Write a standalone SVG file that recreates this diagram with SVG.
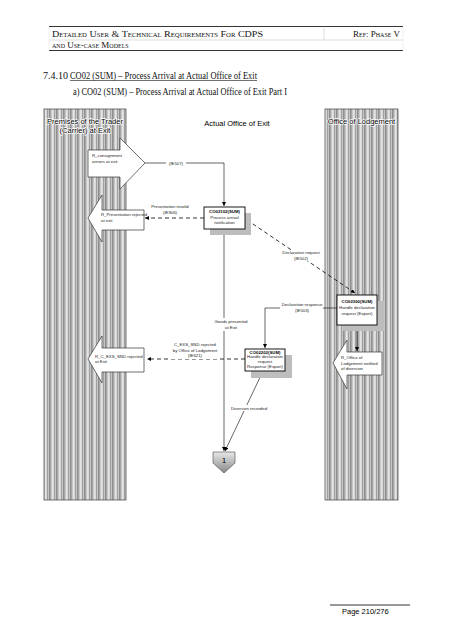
<svg xmlns="http://www.w3.org/2000/svg" width="452" height="640" viewBox="0 0 452 640">
<defs>
<pattern id="stripes" patternUnits="userSpaceOnUse" width="7" height="4">
<rect width="7" height="4" fill="#c6c6c6"/>
<rect x="0" width="1" height="4" fill="#8e8e8e"/>
<rect x="1" width="1" height="4" fill="#a6a6a6"/>
<rect x="3" width="1" height="4" fill="#e4e4e4"/>
<rect x="4" width="1" height="4" fill="#d8d8d8"/>
<rect x="5" width="1" height="4" fill="#a0a0a0"/>
</pattern>
<linearGradient id="pent" x1="0" y1="0" x2="0" y2="1">
<stop offset="0" stop-color="#e8e8e8"/>
<stop offset="1" stop-color="#888"/>
</linearGradient>
<marker id="ah" viewBox="0 0 10 10" refX="10" refY="5" markerWidth="4" markerHeight="4" orient="auto" markerUnits="userSpaceOnUse">
<path d="M0,0 L10,5 L0,10 z" fill="#000"/>
</marker>
</defs>
<style>
.hdr{font-family:"Liberation Serif",serif;font-size:9px;font-variant:small-caps;fill:#111}
.ttl{font-family:"Liberation Serif",serif;font-size:10px;fill:#111}
.lane{fill:url(#stripes);stroke:#555;stroke-width:0.8}
.lt{font-family:"Liberation Sans",sans-serif;font-size:7.5px;fill:#000;stroke:#fff;stroke-width:1.4px;paint-order:stroke;stroke-linejoin:round}
.ht{font-family:"Liberation Sans",sans-serif;font-size:7.5px;fill:#000}
.s{font-family:"Liberation Sans",sans-serif;font-size:4.3px;fill:#222}
.sb{font-family:"Liberation Sans",sans-serif;font-size:4.3px;font-weight:bold;fill:#000}
.box{fill:#fff;stroke:#000;stroke-width:0.9}
.shadow{fill:#bdbdbd}
.arrow{fill:#fff;stroke:#333;stroke-width:0.7}
.c{fill:none;stroke:#000;stroke-width:0.6}
.d{fill:none;stroke:#000;stroke-width:0.8;stroke-dasharray:4,3}
.lbl{fill:#fff}
</style>
<rect width="452" height="640" fill="#fff"/>
<!-- page header -->
<g id="header">
<line x1="49" y1="26.5" x2="403" y2="26.5" stroke="#000" stroke-width="0.8"/>
<line x1="49" y1="40" x2="403" y2="40" stroke="#bbb" stroke-width="0.5"/>
<line x1="49" y1="50.5" x2="403" y2="50.5" stroke="#000" stroke-width="0.8"/>
<line x1="324" y1="26.5" x2="324" y2="40" stroke="#bbb" stroke-width="0.5"/>
<line x1="49" y1="26.5" x2="49" y2="50.5" stroke="#ddd" stroke-width="0.5"/>
<line x1="403" y1="26.5" x2="403" y2="50.5" stroke="#ddd" stroke-width="0.5"/>
<text class="hdr" x="52" y="37" textLength="211" lengthAdjust="spacingAndGlyphs">Detailed User &amp; Technical Requirements For CDPS</text>
<text class="hdr" x="400" y="37" text-anchor="end">Ref: Phase V</text>
<text class="hdr" x="52" y="48">and Use-case Models</text>
</g>
<g id="title">
<text class="ttl" x="43" y="79">7.4.10</text>
<text class="ttl" x="70" y="79" textLength="187" lengthAdjust="spacingAndGlyphs">CO02 (SUM) – Process Arrival at Actual Office of Exit</text>
<line x1="70" y1="80.5" x2="257" y2="80.5" stroke="#111" stroke-width="0.6"/>
<text class="ttl" x="73" y="95" textLength="214" lengthAdjust="spacingAndGlyphs">a) CO02 (SUM) – Process Arrival at Actual Office of Exit Part I</text>
</g>
<!-- lanes -->
<g id="lane-trader">
<rect class="lane" x="44" y="109" width="82" height="391"/>
<text class="lt" x="85" y="124" text-anchor="middle">Premises of the Trader</text>
<text class="lt" x="85" y="133" text-anchor="middle">(Carrier) at Exit</text>
</g>
<g id="lane-exit">
<text class="ht" x="237" y="126" text-anchor="middle">Actual Office of Exit</text>
</g>
<g id="lane-lodgement">
<rect class="lane" x="325" y="109" width="73" height="391"/>
<text class="lt" x="361.5" y="124" text-anchor="middle">Office of Lodgement</text>
</g>
<!-- connectors -->
<g id="connectors">
<path class="c" d="M145,163 H224 V206" marker-end="url(#ah)"/>
<rect class="lbl" x="166" y="160" width="20" height="6"/>
<text class="s" x="176" y="164.5" text-anchor="middle">(IE507)</text>
<path class="d" d="M204,218 H145" marker-end="url(#ah)"/>
<text class="s" x="170" y="208" text-anchor="middle">Presentation invalid</text>
<text class="s" x="170" y="214" text-anchor="middle">(IE906)</text>
<path class="d" d="M247,220 L355,293" marker-end="url(#ah)"/>
<rect class="lbl" x="280" y="250" width="42" height="11"/>
<text class="s" x="301" y="254" text-anchor="middle">Declaration request</text>
<text class="s" x="301" y="260" text-anchor="middle">(IE502)</text>
<path class="c" d="M337,308 H265 V348" marker-end="url(#ah)"/>
<rect class="lbl" x="280" y="302" width="43" height="11"/>
<text class="s" x="302" y="306" text-anchor="middle">Declaration response</text>
<text class="s" x="302" y="312" text-anchor="middle">(IE503)</text>
<path class="c" d="M224,229 V451" marker-end="url(#ah)"/>
<rect class="lbl" x="212" y="318" width="38" height="13"/>
<text class="s" x="231" y="323" text-anchor="middle">Goods presented</text>
<text class="s" x="231" y="329" text-anchor="middle">at Exit</text>
<path class="d" d="M245,359 H147" marker-end="url(#ah)"/>
<rect class="lbl" x="170" y="342" width="50" height="17"/>
<text class="s" x="195" y="346" text-anchor="middle">C_EXS_SND rejected</text>
<text class="s" x="195" y="351.5" text-anchor="middle">by Office of Lodgement</text>
<text class="s" x="195" y="357" text-anchor="middle">(IE621)</text>
<path class="c" d="M263,371 L225,451" marker-end="url(#ah)"/>
<rect class="lbl" x="230" y="405" width="38" height="6"/>
<text class="s" x="249" y="409.5" text-anchor="middle">Diversion recorded</text>
<path class="c" d="M357,325 V351" marker-end="url(#ah)"/>
</g>
<!-- nodes -->
<g id="n-consignment">
<path class="arrow" d="M88,150 H120 V138 L145,163 L120,189 V177 H88 Z"/>
<text class="s" x="92" y="157">R_consignment</text>
<text class="s" x="92" y="163">arrives  at exit</text>
</g>
<g id="n-co02102">
<rect class="shadow" x="210" y="213" width="41" height="22"/>
<rect class="box" x="204" y="207" width="41" height="22"/>
<text class="sb" x="224.5" y="213" text-anchor="middle">CO02102(SUM)</text>
<text class="s" x="224.5" y="218.5" text-anchor="middle">Process arrival</text>
<text class="s" x="224.5" y="224" text-anchor="middle">notification</text>
</g>
<g id="n-presentation-rejected">
<path class="arrow" d="M88,218 L102,195 V210 H144 V230 H102 V242 Z"/>
<text class="s" x="101" y="216">R_Presentation rejected</text>
<text class="s" x="101" y="221.5">at exit</text>
</g>
<g id="n-co02300">
<rect class="shadow" x="343" y="301" width="41" height="30"/>
<rect class="box" x="337" y="295" width="40" height="30"/>
<text class="sb" x="357" y="303" text-anchor="middle">CO02300(SUM)</text>
<text class="s" x="357" y="309" text-anchor="middle">Handle declaration</text>
<text class="s" x="357" y="315" text-anchor="middle">request (Export)</text>
</g>
<g id="n-exs-rejected">
<path class="arrow" d="M88,359 L102,336 V348 H144 V372 H102 V383 Z"/>
<text class="s" x="95" y="357.5">R_C_EXS_SND rejected</text>
<text class="s" x="95" y="363">at Exit</text>
</g>
<g id="n-co02202">
<rect class="shadow" x="251" y="355" width="41" height="23"/>
<rect class="box" x="245" y="349" width="40" height="22"/>
<text class="sb" x="265" y="353.5" text-anchor="middle">CO02202(SUM)</text>
<text class="s" x="265" y="358" text-anchor="middle">Handle declaration</text>
<text class="s" x="265" y="363" text-anchor="middle">request</text>
<text class="s" x="265" y="368" text-anchor="middle">Response (Export)</text>
</g>
<g id="n-lodgement-notified">
<path class="arrow" d="M333,363 L347,340 V352 H382 V375 H347 V389 Z"/>
<text class="s" x="341" y="359">R_Office of</text>
<text class="s" x="341" y="364.5">Lodgement notified</text>
<text class="s" x="341" y="370">of diversion</text>
</g>
<g id="n-offpage-1">
<path d="M213,452 H235 V463 L224,473 L213,463 Z" fill="url(#pent)" stroke="#444" stroke-width="0.6"/>
<text class="ht" x="224" y="463" text-anchor="middle" font-size="7">1</text>
</g>
<!-- footer -->
<g id="footer">
<line x1="330" y1="605" x2="410" y2="605" stroke="#000" stroke-width="0.8"/>
<text class="ht" x="342" y="614" font-size="6.5">Page 210/276</text>
</g>
</svg>
